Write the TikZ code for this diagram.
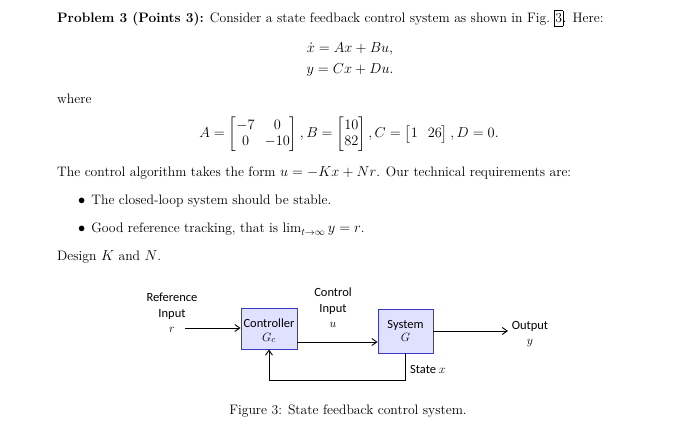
\documentclass[tikz,border=0pt]{standalone}
\usepackage{amsmath}
\usepackage{fontspec}
\newfontfamily\diag{Carlito}
\usetikzlibrary{arrows.meta}
\begin{document}
\begin{tikzpicture}[x=1pt,y=-1pt,
  txt/.style={inner sep=0pt,anchor=base west,font=\fontsize{13.7}{16}\selectfont},
  ctr/.style={inner sep=0pt,anchor=base,font=\fontsize{13.7}{16}\selectfont},
  lbl/.style={inner sep=0pt,align=center,font=\diag\fontsize{12.5}{15.5}\selectfont},
  blk/.style={draw=blue!55!gray,fill=blue!12,line width=0.9pt,inner sep=0pt},
  arr/.style={-{Straight Barb[length=5pt,width=7pt]},line width=0.9pt}]
\useasboundingbox (0,0) rectangle (700,443);
\fill[white] (0,0) rectangle (700,443);
\node[txt] (l1) at (57,23) {\textbf{Problem 3 (Points 3):} Consider a state feedback control system as shown in Fig.~\fbox{\kern-2.5pt3\kern-2.5pt}. Here:};
\node[ctr] (e1) at (350,53) {$\dot{x} = Ax + Bu,$};
\node[ctr] (e2) at (350,74) {$y = Cx + Du.$};
\node[txt] (wh) at (57,104) {where};
\node[ctr] (mat) at (349,138) {$A=\begin{bmatrix}-7&0\\0&-10\end{bmatrix},B=\begin{bmatrix}10\\82\end{bmatrix},C=\begin{bmatrix}1&26\end{bmatrix},D=0.$};
\node[txt] (alg) at (57,177) {The control algorithm takes the form $u=-Kx+Nr$. Our technical requirements are:};
\node[txt] (b1) at (78,205) {$\bullet$\hspace{6pt}The closed-loop system should be stable.};
\node[txt] (b2) at (78,233) {$\bullet$\hspace{6pt}Good reference tracking, that is $\lim_{t\to\infty} y = r$.};
\node[txt] (des) at (57,261) {Design $K$ and $N$.};
% diagram
\node[blk,minimum width=56pt,minimum height=41pt] (C) at (269,328.5) {};
\node[lbl] at (269,331) {Controller\\[-2pt]$G_c$};
\node[blk,minimum width=55pt,minimum height=44pt] (S) at (405.5,331) {};
\node[lbl] at (405.5,331) {System\\[-2pt]$G$};
\node[lbl] (ref) at (172,313) {Reference\\Input\\$r$};
\node[lbl] (ci) at (333,308) {Control\\Input\\$u$};
\node[lbl] (out) at (530,334) {Output\\$y$};
\node[lbl,anchor=west] (st) at (410,369) {State $x$};
\coordinate (rs) at (185,328);
\coordinate (oe) at (508,331);
\draw[arr] (rs) -- (rs -| C.west);
\draw[arr] (C.east |- 0,342) -- (S.west |- 0,342);
\draw[arr] (S.east |- 0,331) -- (oe);
\draw[arr] (S.south) -- (405.5,380) -- (269,380) -- (C.south);
\node[ctr] (cap) at (348,414) {Figure 3: State feedback control system.};
\end{tikzpicture}
\end{document}
